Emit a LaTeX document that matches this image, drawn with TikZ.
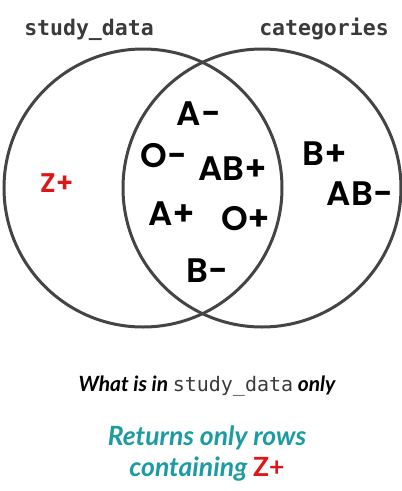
\documentclass[tikz,border=0pt]{standalone}
\usepackage{fontspec}
\setmainfont{Lato}
\newfontfamily\labelfont{Poppins}[BoldFont={* SemiBold}]
\newfontfamily\codefont{DejaVu Sans Mono}
\definecolor{ringgray}{HTML}{444444}
\definecolor{codegray}{HTML}{3A3A3A}
\definecolor{zred}{HTML}{DD1717}
\definecolor{rteal}{HTML}{1C9BA2}
\usetikzlibrary{positioning}

\begin{document}
\begin{tikzpicture}[
        x=1pt, y=-1pt,
        ring/.style={circle, draw=ringgray, line width=3pt, minimum size=278pt, inner sep=0pt},
        setname/.style={anchor=base, inner sep=0pt, text=codegray, font=\codefont\bfseries\fontsize{21.5}{26}\selectfont},
        blood/.style={anchor=base, inner sep=0pt, font=\labelfont\bfseries\fontsize{34}{40}\selectfont},
        note/.style={anchor=base, inner sep=0pt, font=\bfseries\itshape\fontsize{21}{25}\selectfont},
        result/.style={anchor=base, inner sep=0pt, text=rteal, font=\bfseries\itshape\fontsize{26.5}{32}\selectfont}
    ]
        \useasboundingbox (0,0) rectangle (402,491);

        \node[ring] (study) at (143,188) {};
        \node[ring] (cats)  at (262,188) {};

        \node[setname] (studyname) at (89,35)  {study\_data};
        \node[setname] (catsname)  at (324,35) {categories};

        % study_data only
        \node[blood, text=zred, font=\labelfont\bfseries\fontsize{27}{32}\selectfont] (zplus) at (57,192) {Z+};

        % both
        \node[blood] (aminus)  at (199,125) {A-};
        \node[blood] (ominus)  at (164,167) {O-};
        \node[blood] (abplus)  at (233,180) {AB+};
        \node[blood] (aplus)   at (172,225) {A+};
        \node[blood] (oplus)   at (246,230) {O+};
        \node[blood] (bminus)  at (207,282) {B-};

        % categories only
        \node[blood] (bplus)   at (325,165) {B+};
        \node[blood] (abminus) at (360,205) {AB-};

        \node[note] (what) at (207,391) {What is in {\normalfont\codefont\color{codegray}\fontsize{20}{24}\selectfont study\_data} only};
        \node[result] (returns) at (207,445) {Returns only rows};
        \node[result] (contain) at (207,476) {containing \textcolor{zred}{\textup{Z+}}};
    \end{tikzpicture}
\end{document}
